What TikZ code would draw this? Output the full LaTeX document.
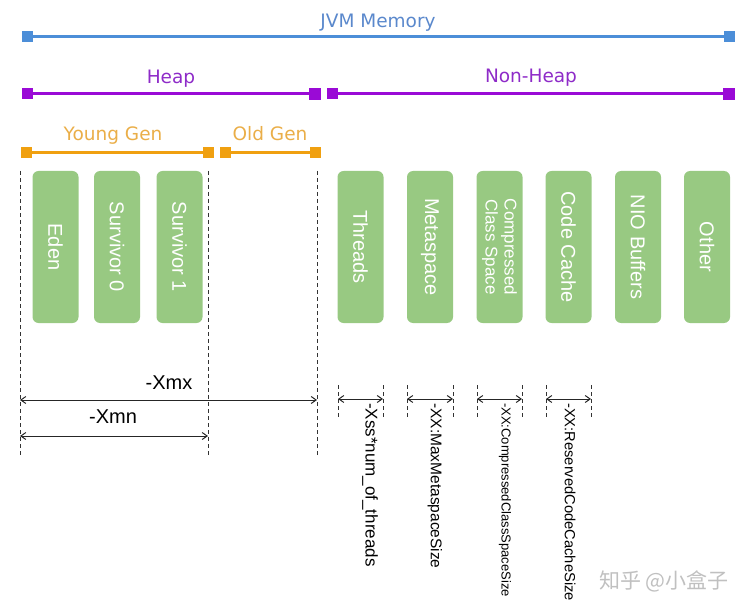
\documentclass[tikz,border=0pt]{standalone}
\usepackage{fontspec}
\setmainfont{Liberation Sans}
\newfontfamily\verd{DejaVu Sans}
\newfontfamily\cjk{Noto Sans CJK SC}
\usetikzlibrary{arrows.meta}
\definecolor{jvmline}{HTML}{4C8ED8}
\definecolor{jvmtext}{HTML}{5A88CC}
\definecolor{heapline}{HTML}{9A0AD6}
\definecolor{heaptext}{HTML}{8E2BC8}
\definecolor{genline}{HTML}{F0A010}
\definecolor{gentext}{HTML}{EAAE48}
\definecolor{boxgreen}{HTML}{98C982}
\definecolor{wmgray}{HTML}{C0C0C0}
\begin{document}
\begin{tikzpicture}[x=1pt,y=-1pt,
  sq/.style={rectangle, minimum size=11pt, inner sep=0pt, fill=#1},
  bar/.style={line width=3pt, draw=#1},
  toplabel/.style={font=\verd\fontsize{18.5}{20}\selectfont, text=#1, inner sep=0pt, anchor=base},
  mem/.style={rectangle, rotate=-90, rounded corners=6pt, fill=boxgreen, minimum width=152pt, minimum height=46pt, inner sep=0pt, text=white, font=\fontsize{20}{22}\selectfont, align=center},
  guide/.style={draw=black!80, line width=0.8pt, dash pattern=on 4pt off 3pt},
  dim/.style={draw=black!85, line width=1pt, {Straight Barb[length=5pt,width=7pt]}-{Straight Barb[length=5pt,width=7pt]}},
  dimlabel/.style={font=\fontsize{20}{22}\selectfont, inner sep=0pt, anchor=base},
  optlabel/.style={rotate=-90, anchor=west, inner sep=0pt, font=\fontsize{#1}{#1}\selectfont},
  ]
\useasboundingbox (0,0) rectangle (753,615);

% JVM Memory
\node[sq=jvmline] (j1) at (27,37) {};
\node[sq=jvmline] (j2) at (729,37) {};
\draw[bar=jvmline] (j1.center) -- (j2.center);
\node[toplabel=jvmtext] (jvm) at (378,27.5) {JVM Memory};

% Heap / Non-Heap
\node[sq=heapline] (h1) at (27,94) {};
\node[sq=heapline, minimum size=12pt] (h2) at (315,94) {};
\draw[bar=heapline] (h1.center) -- (h2.center);
\node[sq=heapline] (n1) at (332,94) {};
\node[sq=heapline, minimum size=12pt] (n2) at (729,94) {};
\draw[bar=heapline] (n1.center) -- (n2.center);
\node[toplabel=heaptext] (heap) at (171,84) {Heap};
\node[toplabel=heaptext] (nonheap) at (531,83) {Non-Heap};

% Young / Old Gen
\node[sq=genline] (y1) at (26,152.5) {};
\node[sq=genline] (y2) at (208,152.5) {};
\draw[bar=genline] (y1.center) -- (y2.center);
\node[sq=genline] (o1) at (225,152.5) {};
\node[sq=genline] (o2) at (315,152.5) {};
\draw[bar=genline] (o1.center) -- (o2.center);
\node[toplabel=gentext] (young) at (113,141) {Young Gen};
\node[toplabel=gentext] (old) at (270,141) {Old Gen};

% memory areas
\node[mem] (eden) at (55.5,247) {Eden};
\node[mem] (s0) at (117,247) {Survivor 0};
\node[mem] (s1) at (179.5,247) {Survivor 1};
\node[mem] (thr) at (360.5,247) {Threads};
\node[mem] (meta) at (430,247) {Metaspace};
\node[mem, font=\fontsize{17}{19}\selectfont] (ccs) at (499.5,247) {Compressed\\Class Space};
\node[mem] (code) at (568.5,247) {Code Cache};
\node[mem] (nio) at (638,247) {NIO Buffers};
\node[mem] (other) at (707,247) {Other};

% heap guides
\coordinate (ga1) at (20,171); \coordinate (ga2) at (20,455);
\coordinate (gb1) at (208,171); \coordinate (gb2) at (208,455);
\coordinate (gc1) at (317,171); \coordinate (gc2) at (317,455);
\draw[guide] (ga1) -- (ga2);
\draw[guide] (gb1) -- (gb2);
\draw[guide] (gc1) -- (gc2);

\coordinate (xmxL) at (20,400); \coordinate (xmxR) at (317,400);
\draw[dim] (xmxL) -- (xmxR);
\node[dimlabel] (xmx) at (169,389) {-Xmx};
\coordinate (xmnL) at (20,436); \coordinate (xmnR) at (208,436);
\draw[dim] (xmnL) -- (xmnR);
\node[dimlabel] (xmn) at (113,423) {-Xmn};

% non-heap option guides
\foreach \n/\a/\b in {t/338/383, m/407/453, c/477/522, r/546/591}{
  \coordinate (\n a1) at (\a,385); \coordinate (\n a2) at (\a,418);
  \coordinate (\n b1) at (\b,385); \coordinate (\n b2) at (\b,418);
  \draw[guide] (\n a1) -- (\n a2);
  \draw[guide] (\n b1) -- (\n b2);
  \coordinate (\n L) at (\a,399); \coordinate (\n R) at (\b,399);
  \draw[dim] (\n L) -- (\n R);
}
\node[optlabel=17] (xss) at (370,403) {-Xss*num\_of\_threads};
\node[optlabel=15.5] (mms) at (435,403) {-XX:MaxMetaspaceSize};
\node[optlabel=13] (ccss) at (505,403) {-XX:CompressedClassSpaceSize};
\node[optlabel=14.7] (rccs) at (570,403) {-XX:ReservedCodeCacheSize};

% watermark
\node[font=\cjk\fontsize{21}{22}\selectfont, text=wmgray, inner sep=0pt] (wm) at (664,581) {知乎 @小盒子};
\end{tikzpicture}
\end{document}
